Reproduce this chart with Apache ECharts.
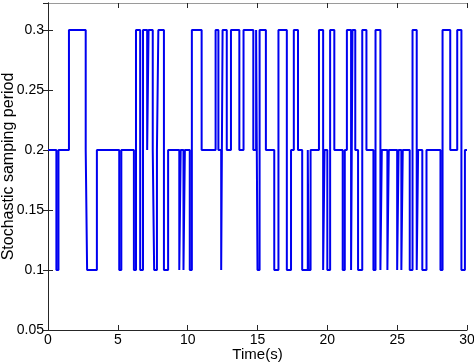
<!DOCTYPE html>
<html>
<head>
<meta charset="utf-8">
<script src="https://cdn.jsdelivr.net/npm/echarts@6/dist/echarts.min.js"></script>
<style>html,body{margin:0;padding:0;background:#fff}#c{width:474px;height:364px}</style>
</head>
<body>
<div id="c"></div>
<script>
// switching instants (s) and the sampling period held from that instant on
const switchTimes = [
  0.0, 0.6, 0.75, 1.5, 2.7, 2.8, 3.5, 5.1, 5.25, 6.15, 6.3, 6.6, 6.8, 7.1, 7.2, 7.5, 7.6, 7.8, 7.9,
  8.3, 8.6, 9.4, 9.5, 9.7, 9.8, 10.15, 10.3, 11.0, 12.0, 12.2, 12.4, 12.5, 12.8, 13.1, 13.7, 14.0,
  14.7, 14.9, 15.0, 15.15, 15.6, 16.2, 16.5, 17.1, 17.4, 17.6, 17.9, 18.2, 18.6, 18.65, 18.8, 19.4,
  19.7, 19.8, 20.0, 20.2, 20.5, 21.1, 21.25, 21.4, 21.7, 21.8, 22.0, 22.2, 22.5, 22.8, 23.3, 23.45,
  23.8, 23.9, 24.3, 24.4, 25.0, 25.1, 25.3, 25.4, 25.9, 26.1, 26.4, 26.5, 26.8, 27.1, 28.1, 28.25,
  28.8, 29.3, 29.6, 29.85, 30.0
];
const periods = [
  0.2, 0.1, 0.2, 0.3, 0.2, 0.1, 0.2, 0.1, 0.2, 0.1, 0.3, 0.1, 0.3, 0.2, 0.3, 0.2, 0.1, 0.2, 0.3,
  0.1, 0.2, 0.1, 0.2, 0.1, 0.2, 0.1, 0.3, 0.2, 0.3, 0.2, 0.1, 0.3, 0.2, 0.3, 0.2, 0.3,
  0.2, 0.3, 0.1, 0.3, 0.2, 0.1, 0.3, 0.1, 0.2, 0.3, 0.2, 0.1, 0.2, 0.1, 0.2, 0.3,
  0.1, 0.2, 0.1, 0.3, 0.2, 0.1, 0.2, 0.3, 0.1, 0.3, 0.2, 0.1, 0.3, 0.2, 0.1, 0.3,
  0.1, 0.2, 0.1, 0.2, 0.1, 0.2, 0.1, 0.2, 0.1, 0.3, 0.1, 0.2, 0.1, 0.2, 0.1, 0.3,
  0.2, 0.3, 0.1, 0.2, 0.2
];
const xTicks = [0, 5, 10, 15, 20, 25, 30];
const yTicks = [0.05, 0.1, 0.15, 0.2, 0.25, 0.3];
const xLabel = 'Time(s)';
const yLabel = 'Stochastic samping period';

const data = switchTimes.map((t, i) => [t, periods[i]]);
const font = '"Liberation Sans", Arial, sans-serif';
const frame = '#262626';

const chart = echarts.init(document.getElementById('c'), null, {renderer: 'canvas'});
chart.setOption({
  animation: false,
  backgroundColor: '#ffffff',
  grid: {left: 48, right: 7, top: 3, bottom: 34, show: false, containLabel: false, outerBoundsMode: 'none'},
  xAxis: [{
    type: 'value', min: xTicks[0], max: xTicks[xTicks.length - 1], interval: 5,
    position: 'bottom',
    name: xLabel, nameLocation: 'middle', nameGap: 17, nameMoveOverlap: false,
    nameTextStyle: {fontFamily: font, fontSize: 15, color: '#000'},
    axisLine: {show: true, lineStyle: {color: frame, width: 1}},
    axisTick: {show: true, inside: true, length: 5, lineStyle: {color: frame}},
    axisLabel: {fontFamily: font, fontSize: 14, color: '#000', margin: 3},
    splitLine: {show: false}
  }, {
    type: 'value', min: xTicks[0], max: xTicks[xTicks.length - 1], interval: 5,
    position: 'top',
    axisLine: {show: true, lineStyle: {color: '#9a9a9a', width: 1}},
    axisTick: {show: true, inside: true, length: 5, lineStyle: {color: frame}},
    axisLabel: {show: false}, splitLine: {show: false}
  }],
  yAxis: [{
    type: 'value', min: 0.05, max: 0.3225, interval: 0.05,
    position: 'left',
    name: yLabel, nameLocation: 'middle', nameGap: 31, nameRotate: 90, nameMoveOverlap: false,
    nameTextStyle: {fontFamily: font, fontSize: 16, color: '#000'},
    axisLine: {show: true, lineStyle: {color: frame, width: 1}},
    axisTick: {show: true, inside: true, length: 5, lineStyle: {color: frame}},
    axisLabel: {fontFamily: font, fontSize: 14, color: '#000', margin: 4, showMaxLabel: false,
      formatter: v => yTicks.some(t => Math.abs(t - v) < 1e-9) ? String(+v.toFixed(2)) : ''},
    splitLine: {show: false}
  }, {
    type: 'value', min: 0.05, max: 0.3225, interval: 0.05,
    position: 'right',
    axisLine: {show: true, lineStyle: {color: frame, width: 1}},
    axisTick: {show: true, inside: true, length: 5, lineStyle: {color: frame}},
    axisLabel: {show: false}, splitLine: {show: false}
  }],
  series: [{
    type: 'line',
    data: data,
    step: 'end',
    showSymbol: false,
    lineStyle: {color: '#0000f0', width: 2},
    xAxisIndex: 0, yAxisIndex: 0
  }]
});
</script>
</body>
</html>
